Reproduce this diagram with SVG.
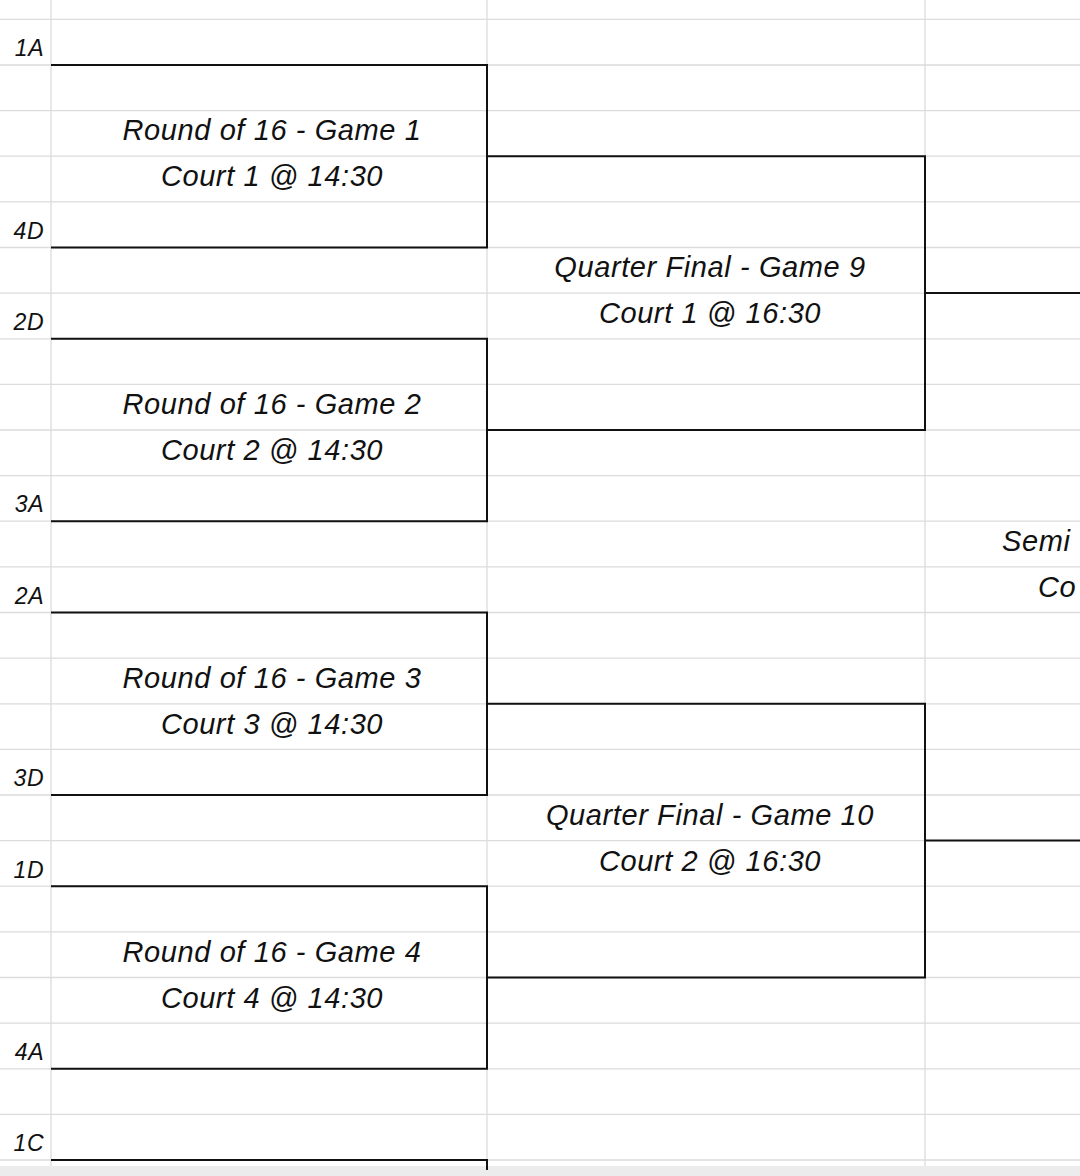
<svg xmlns="http://www.w3.org/2000/svg" width="1080" height="1176" viewBox="0 0 1080 1176">
<style>
.g{stroke:#dcdcdc;stroke-width:1.3;fill:none}
.b{stroke:#111;stroke-width:2;fill:none}
.t{font-family:"Liberation Sans",Arial,sans-serif;font-style:italic;font-size:29px;letter-spacing:0.6px;fill:#111;text-anchor:middle}
.l{font-family:"Liberation Sans",Arial,sans-serif;font-style:italic;font-size:23px;letter-spacing:0.5px;fill:#111;text-anchor:end}
</style>
<rect width="1080" height="1176" fill="#fff"/>
<g id="grid" class="g">
<path d="M0 19.4H1080M0 65H1080M0 110.6H1080M0 156.2H1080M0 201.9H1080M0 247.5H1080M0 293.1H1080M0 338.8H1080M0 384.4H1080M0 430H1080M0 475.6H1080M0 521.2H1080M0 566.9H1080M0 612.5H1080M0 658.1H1080M0 703.8H1080M0 749.4H1080M0 795H1080M0 840.6H1080M0 886.2H1080M0 931.9H1080M0 977.5H1080M0 1023.1H1080M0 1068.8H1080M0 1114.4H1080M0 1160H1080"/>
<path d="M51 0V1176M487 0V1176M925 0V1176"/>
</g>
<rect x="0" y="1166" width="1080" height="10" fill="#ececec"/>
<g id="connectors" class="b">
<path d="M51 65H487V247.5H51"/>
<path d="M51 338.8H487V521.2H51"/>
<path d="M51 612.5H487V795H51"/>
<path d="M51 886.2H487V1068.8H51"/>
<path d="M51 1160H487V1170"/>
<path d="M487 156.2H925V430H487"/>
<path d="M487 703.8H925V977.5H487"/>
<path d="M925 293.1H1080"/>
<path d="M925 840.6H1080"/>
</g>
<g id="seeds" class="l">
<text x="44" y="56">1A</text><text x="44" y="239">4D</text>
<text x="44" y="330">2D</text><text x="44" y="512">3A</text>
<text x="44" y="604">2A</text><text x="44" y="786">3D</text>
<text x="44" y="878">1D</text><text x="44" y="1060">4A</text>
<text x="44" y="1151">1C</text>
</g>
<g id="game1" class="t"><text x="272" y="140">Round of 16 - Game 1</text><text x="272" y="186">Court 1 @ 14:30</text></g>
<g id="game2" class="t"><text x="272" y="414">Round of 16 - Game 2</text><text x="272" y="460">Court 2 @ 14:30</text></g>
<g id="game3" class="t"><text x="272" y="688">Round of 16 - Game 3</text><text x="272" y="734">Court 3 @ 14:30</text></g>
<g id="game4" class="t"><text x="272" y="962">Round of 16 - Game 4</text><text x="272" y="1008">Court 4 @ 14:30</text></g>
<g id="game9" class="t"><text x="710" y="277">Quarter Final - Game 9</text><text x="710" y="323">Court 1 @ 16:30</text></g>
<g id="game10" class="t"><text x="710" y="825">Quarter Final - Game 10</text><text x="710" y="871">Court 2 @ 16:30</text></g>
<g id="semi" class="t" style="text-anchor:start"><text x="1002" y="551">Semi</text><text x="1038" y="597">Co</text></g>
</svg>
